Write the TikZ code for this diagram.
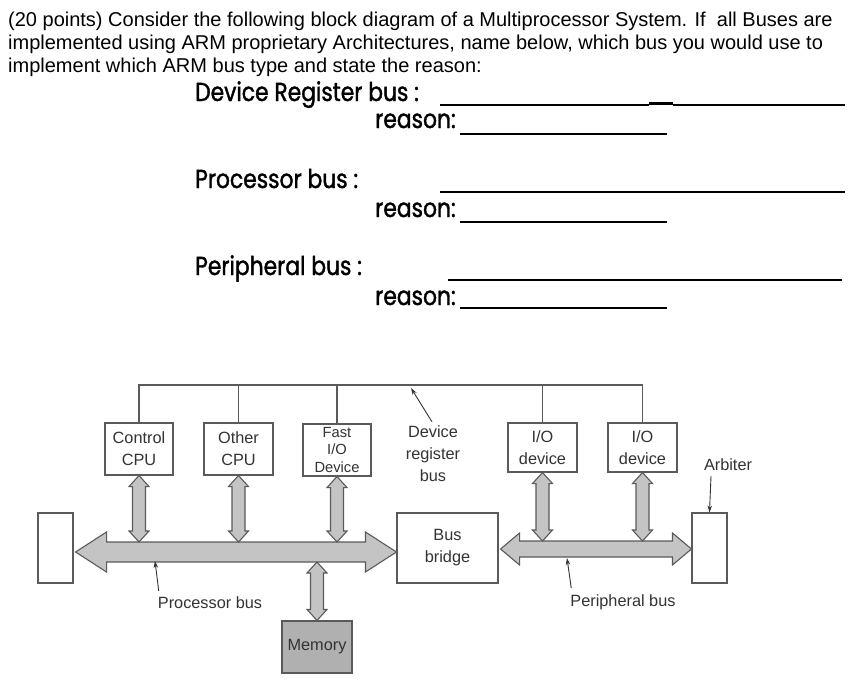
\documentclass[tikz,border=0pt]{standalone}
\usepackage{fontspec}
\setmainfont{Liberation Sans}
\newfontfamily\qfont{Poppins}[FakeStretch=0.84,FakeBold=1.4]
\usetikzlibrary{arrows.meta,positioning,calc}
\definecolor{edgegray}{HTML}{5A5A5A}
\definecolor{busgray}{HTML}{C4C4C4}
\definecolor{memgray}{HTML}{B0B0B0}
\definecolor{labelgray}{HTML}{333333}
\tikzset{
  unit/.style={draw=edgegray,line width=1.1pt,fill=white,inner sep=0pt,align=center,
    text=labelgray,font=\fontsize{16.3}{22}\selectfont},
  lbl/.style={text=labelgray,align=center,inner sep=0pt,font=\fontsize{16.3}{22}\selectfont},
  fatbus/.style={draw=edgegray,fill=busgray,line width=1.1pt,line join=miter},
  regline/.style={draw=edgegray,line width=1.1pt},
  pointer/.style={-{Stealth[length=7pt,width=4.5pt]},line width=0.9pt,draw=black!80},
  blank/.style={line width=2.6pt},
  qline/.style={anchor=base west,inner sep=0pt,font=\fontsize{20}{23}\selectfont},
  qtext/.style={anchor=base west,inner sep=0pt,font=\qfont\fontsize{26}{26}\selectfont}
}
% double headed block arrow from #1 to #2: head length, shaft half width, head half width
\newcommand\fatarrow[5]{%
  \path (#1) coordinate (fa1) (#2) coordinate (fa2);
  \path ($(fa1)!#3!(fa2)$) coordinate (fh1) ($(fa2)!#3!(fa1)$) coordinate (fh2);
  \draw[fatbus] (fa1) -- ($(fh1)!#5!90:(fa2)$) -- ($(fh1)!#4!90:(fa2)$)
    -- ($(fh2)!#4!-90:(fa1)$) -- ($(fh2)!#5!-90:(fa1)$) -- (fa2)
    -- ($(fh2)!#5!90:(fa1)$) -- ($(fh2)!#4!90:(fa1)$)
    -- ($(fh1)!#4!-90:(fa2)$) -- ($(fh1)!#5!-90:(fa2)$) -- cycle;}

\begin{document}
\begin{tikzpicture}[x=1pt,y=-1pt]
  \useasboundingbox (0,0) rectangle (863,697);

  % question
  \node[qline] (q1) at (8,26) {(20 points) Consider the following block diagram of a Multiprocessor System. If\ \ all Buses are};
  \node[qline] (q2) at (8,49) {implemented using ARM proprietary Architectures, name below, which bus you would use to};
  \node[qline] (q3) at (8,72) {implement which ARM bus type and state the reason:};

  \node[qtext] (drq) at (195,101) {Device Register bus :};
  \node[qtext] (drr) at (375,128) {reason:};
  \node[qtext] (pbq) at (195,188) {Processor bus :};
  \node[qtext] (pbr) at (375,217) {reason:};
  \node[qtext] (prq) at (195,275) {Peripheral bus :};
  \node[qtext] (prr) at (375,305) {reason:};

  \draw[blank] (440,105) -- (649,105) (649,103.5) -- (673,103.5) (673,105) -- (845,105);
  \draw[blank] (460,134) -- (667,134);
  \draw[blank] (440,192) -- (845,192);
  \draw[blank] (460,222) -- (667,222);
  \draw[blank] (448,280) -- (842,280);
  \draw[blank] (460,308) -- (667,308);

  % block diagram
  \node[unit, minimum width=68, minimum height=52] (ctrl) at (139,449) {Control\\CPU};
  \node[unit, minimum width=69, minimum height=52] (other) at (238.5,449) {Other\\CPU};
  \node[unit, minimum width=68, minimum height=52, font=\fontsize{14.7}{17.5}\selectfont] (fastio) at (337,450) {Fast\\I/O\\Device};
  \node[unit, minimum width=69, minimum height=49] (io1) at (542.5,447.5) {I/O\\device};
  \node[unit, minimum width=69, minimum height=49] (io2) at (642.5,447.5) {I/O\\device};
  \node[unit, minimum width=35, minimum height=70] (lbox) at (55.5,548) {};
  \node[unit, minimum width=101, minimum height=70] (bridge) at (447.5,548) {Bus\\bridge};
  \node[unit, minimum width=35, minimum height=70] (arbiter) at (709.5,548) {};
  \node[unit, minimum width=70, minimum height=52, fill=memgray] (memory) at (317,647) {Memory};

  \coordinate (topline) at (0,385);
  \coordinate (pbmid) at (0,552);
  \coordinate (prmid) at (0,549);

  % device register bus
  \draw[regline] (ctrl.north) |- (topline -| io2.north) -- (io2.north);
  \foreach \dev in {other,fastio,io1}
    \draw[regline] (\dev.north) -- (\dev.north |- topline);

  % processor and peripheral bus
  \fatarrow{$(lbox.east |- pbmid)+(2,0)$}{bridge.west |- pbmid}{31pt}{10pt}{20pt}
  \fatarrow{$(bridge.east |- prmid)+(2,0)$}{arbiter.west |- prmid}{19pt}{8pt}{16pt}
  \foreach \dev in {ctrl,other,fastio}{
    \fatarrow{\dev.south}{$(\dev.south |- pbmid)+(0,-10)$}{11pt}{6.5pt}{10pt}
  }
  \fatarrow{$(memory.north |- pbmid)+(0,10)$}{memory.north}{11pt}{6.5pt}{10pt}
  \foreach \dev in {io1,io2}{
    \fatarrow{\dev.south}{$(\dev.south |- prmid)+(0,-8)$}{11pt}{6.5pt}{10pt}
  }

  % labels
  \node[lbl] (drb) at (433,454) {Device\\register\\bus};
  \node[lbl] (plabel) at (210,603) {Processor bus};
  \node[lbl] (rlabel) at (623,602) {Peripheral bus};
  \node[lbl] (arb) at (728,465) {Arbiter};
  \coordinate (drbtip) at (411,388);
  \coordinate (pbtip) at (155,561);
  \coordinate (prtip) at (567,558);
  \draw[pointer] ($(drb.north)+(-1,-4)$) -- (drbtip);
  \draw[pointer] ([shift={(1,-6)}]plabel.north west) -- (pbtip);
  \draw[pointer] ([shift={(1,-6)}]rlabel.north west) -- (prtip);
  \draw[pointer] ($(arb.south)+(-17,5)$) -- (arbiter.north);
\end{tikzpicture}
\end{document}
